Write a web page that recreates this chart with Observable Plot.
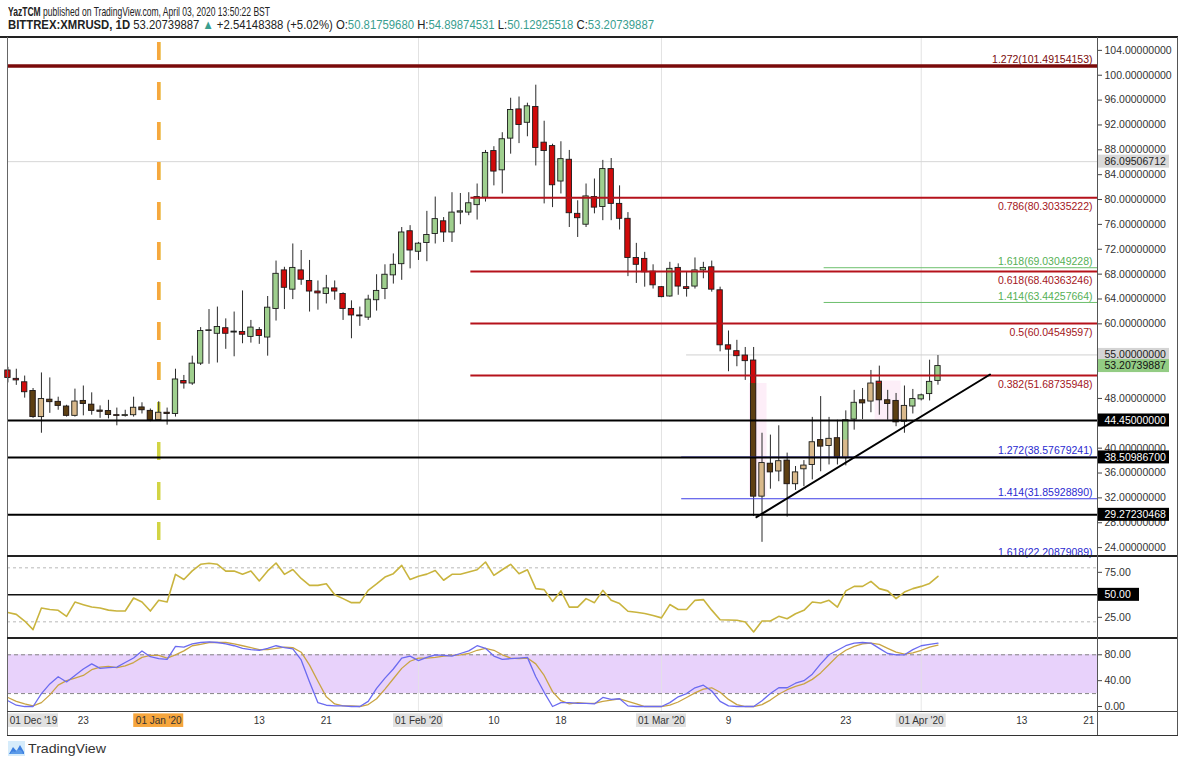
<!DOCTYPE html>
<html>
<head>
<meta charset="utf-8">
<script src="https://cdn.jsdelivr.net/npm/d3@7"></script>
<script src="https://cdn.jsdelivr.net/npm/@observablehq/plot@0.6"></script>
<style>
html,body{margin:0;padding:0;background:#fff;}
#root{position:relative;width:1180px;height:768px;overflow:hidden;background:#fff;font-family:"Liberation Sans",Arial,sans-serif;color:#333;}
.pane{position:absolute;left:7px;}
.ln{position:absolute;}
.hdr{position:absolute;left:8px;white-space:nowrap;transform-origin:0 50%;font-size:13px;line-height:14px;color:#222;}
.t{color:#3a9e8f}
#logo{position:absolute;left:8px;top:741px;display:flex;align-items:center;}
#logoText{font-size:13px;color:#333;margin-left:3px;transform-origin:0 50%;white-space:nowrap;}
</style>
</head>
<body>
<div id="root">
  <div class="hdr" id="h1" style="top:5px"></div>
  <div class="hdr" id="h2" style="top:18px"></div>
  <div class="pane" id="pMain" style="top:38px"></div>
  <div class="pane" id="pRsi" style="top:556px"></div>
  <div class="pane" id="pStoch" style="top:638px"></div>
  <div class="pane" id="pDate" style="top:712px"></div>
  <div id="logo">
    <svg width="17" height="15" viewBox="0 0 17 15"><rect x="0" y="0" width="17" height="15" fill="#d6ecfb"/><path d="M1 13 L5 6 L8.5 10 L12 4 L16 11 L16 13 Z" fill="#3d7fe0"/><path d="M2 13 Q4 9 7 11 Q10 7 14 10 L15 13 Z" fill="#5a9ae8"/></svg>
    <span id="logoText">TradingView</span>
  </div>
</div>
<script>
// ---------------- DATA ----------------
const publisher = "YazTCM";
const publishedAt = "April 03, 2020 13:50:22 BST";
const symbol = "BITTREX:XMRUSD, 1D";
const firstDay = "2019-12-14";

const open = [
52.5,51.15,50.6,49.2,45.0,47.8,47.45,46.7,45.2,47.6,47.0,46.05,45.97,45.3,45.2,45.3,46.55,46.0,
44.5,45.7,45.5,50.8,50.4,53.6,58.85,58.4,59.3,58.6,58.7,57.9,59.0,57.8,62.4,68.6,65.5,68.6,66.9,65.2,64.8,65.7,64.8,62.4,61.35,61.0,63.8,65.6,67.8,69.6,74.9,
71.6,73.0,74.45,76.5,74.7,77.9,77.9,79.1,80.3,87.8,84.7,89.8,94.5,92.35,94.9,89.15,88.6,82.9,86.4,77.7,75.95,80.4,78.8,84.9,79.3,76.9,70.6,70.45,68.4,
65.9,64.4,69.0,65.9,66.0,68.6,69.1,65.4,56.55,55.6,54.9,54.1,32.2,37.5,36.25,38.0,34.2,36.6,37.3,41.3,40.35,41.6,38.4,44.6,47.7,47.5,50.7,47.7,47.6,44.25,46.7,
47.85,48.7,50.81759680];
const high = [
53.0,52.7,51.6,49.6,52.1,51.3,48.2,46.9,49.5,50.0,48.9,46.8,47.7,46.45,46.1,48.2,47.3,46.3,
47.46,46.45,52.7,51.7,54.8,59.4,62.3,62.7,60.8,61.9,65.3,60.55,59.4,64.4,70.1,69.1,72.85,71.8,70.2,66.9,67.8,66.9,65.0,63.7,62.7,64.6,67.9,69.5,71.25,75.5,75.8,
73.1,78.1,80.4,77.1,81.1,80.97,81.1,82.5,87.9,88.5,90.75,96.3,96.5,95.5,98.4,92.6,88.9,89.3,87.9,79.8,82.5,83.3,86.3,86.6,82.2,77.9,72.95,71.5,69.5,
66.0,69.9,69.65,68.3,70.6,69.9,70.1,65.9,58.85,57.35,56.2,56.2,42.4,42.1,43.6,39.2,37.05,38.0,44.95,48.3,44.95,44.5,46.0,49.3,49.6,52.5,53.2,49.3,48.8,50.0,49.45,
48.7,54.15,54.89874531];
const low = [
50.5,50.1,48.05,44.8,42.4,45.6,46.1,45.0,45.0,45.2,45.3,44.8,44.7,43.6,45.0,45.0,45.5,44.25,
44.5,43.7,45.0,49.5,50.1,53.3,53.5,53.7,55.9,54.7,56.8,56.9,56.7,54.8,60.45,62.3,63.9,66.2,61.9,62.2,63.2,63.8,60.55,57.6,59.6,60.55,62.05,63.9,66.4,67.0,68.85,
70.2,70.0,72.85,73.1,73.1,75.95,77.4,76.7,79.6,82.2,80.9,87.3,89.0,90.1,85.4,79.3,78.7,80.9,75.5,73.9,75.5,77.7,76.6,76.6,75.1,67.6,66.5,65.9,65.6,
64.2,64.3,64.6,64.3,65.6,67.25,65.1,55.5,52.3,53.1,50.9,29.0,24.85,33.4,34.6,28.9,33.2,33.8,34.9,36.2,37.3,37.3,37.15,42.9,44.6,45.7,45.3,44.5,43.45,42.4,45.5,
47.6,47.6,50.12925518];
const close = [
51.3,50.9,49.0,45.0,47.9,47.4,46.8,45.2,47.5,47.1,46.0,45.85,45.33,45.2,45.3,46.5,46.1,44.5,
45.7,45.5,51.05,50.4,53.6,58.85,58.95,59.5,58.4,58.75,58.25,59.4,58.05,62.6,68.05,65.8,69.0,67.1,65.2,64.9,65.7,65.2,62.4,61.35,61.2,63.9,65.3,67.9,69.5,74.7,71.8,
72.9,74.3,76.85,74.7,77.9,78.1,79.4,80.4,87.5,84.5,89.7,94.4,92.0,95.0,88.3,87.8,82.3,86.5,77.8,77.0,80.5,78.7,84.9,79.3,76.9,70.6,69.5,68.3,66.2,
64.3,68.85,66.0,65.6,68.6,69.0,65.5,56.55,55.85,54.8,54.0,32.2,37.6,36.1,37.9,34.2,36.1,37.2,40.95,40.25,41.5,38.55,44.5,47.3,47.2,50.4,47.7,47.1,44.15,46.8,47.9,
48.5,50.66591499,53.20739887];

const rsi = [
30.3,28.3,20.9,11.4,35.3,33.7,32.8,26.1,42.0,39.1,36.4,35.3,33.0,32.0,32.0,46.5,42.0,32.0,
43.9,42.0,72.8,67.0,76.6,83.9,85.1,83.9,76.4,76.4,72.8,76.4,65.4,76.6,85.4,72.8,78.2,68.2,60.5,60.5,62.4,50.0,45.8,41.3,41.3,55.0,62.1,69.7,73.5,82.8,67.0,
70.6,73.0,77.1,66.2,72.8,72.8,75.4,77.9,86.5,71.7,77.9,83.9,73.5,77.9,56.9,55.8,42.7,54.4,36.4,36.4,45.8,41.3,55.0,43.9,40.3,31.8,30.6,29.3,27.0,
24.4,39.2,33.7,33.7,43.9,44.7,33.0,22.4,22.0,21.7,19.8,8.7,20.9,20.9,26.1,23.5,29.0,32.8,42.0,40.9,43.9,36.4,54.4,59.4,59.4,65.0,56.9,54.4,45.8,53.1,56.9,
59.4,62.7,70.6];
const stochK = [
9,2,0,0,20,35,46,38,48,58,66,59,60,61,68,75,86,77,
74,73,93,92,97,99,100,99,97,94,90,88,87,90,94,91,89,72,38,6,2,1,1,0,0,8,28,44,58,75,78,
71,76,80,79,78,82,86,94,90,78,73,74,75,76,46,22,0,6,6,5,5,4,14,11,12,1,0,0,0,
0,6,15,20,29,33,24,8,1,0,0,0,9,20,29,29,36,40,50,66,80,87,94,98,99,98,90,82,80,80,88,
94,96,98];
const stochD = [
14,8,4,1,6,18,33,40,44,48,57,61,62,60,63,68,76,79,
79,75,80,86,94,96,99,99,99,97,94,91,88,88,90,92,91,84,64,39,15,4,1,1,0,3,12,27,43,59,70,
75,75,76,78,79,80,82,87,90,87,80,75,74,75,66,48,23,9,4,6,5,5,8,10,12,8,4,0,0,
0,2,7,14,21,27,29,22,11,3,0,0,3,10,19,26,31,35,42,52,65,78,87,93,97,98,96,90,84,81,83,
87,92,95];

// drawn levels
const fibTopRatio = "1.272", fibTopLevel = 101.49154153;
const fibRedRatios = ["0.786","0.618","0.5","0.382"];
const fibRedLevels = [80.30335222, 68.40363246, 60.04549597, 51.68735948];
const fibRedFrom = "2020-02-07T06:00Z";
const fibGreenRatios = ["1.618","1.414"];
const fibGreenLevels = [69.03049228, 63.44257664];
const fibGreenFrom = "2020-03-20T10:00Z";
const fibBlueRatios = ["1.272","1.414","1.618"];
const fibBlueLevels = [38.57679241, 31.85928890, 22.20879089];
const fibBlueFrom = "2020-03-03T10:00Z";
const supportLevels = [44.45, 38.509867, 29.27230468];
const highMarkLevel = 86.09506712;
const roundLevel = 55, roundFrom = "2020-03-04";
const trendDates = ["2020-03-12T08:00Z", "2020-04-09T05:00Z"];
const trendPrices = [28.9, 51.85];
const markerDay = "2020-01-01";
const markerSplit = 49.7;
const monthStarts = ["2020-02-01","2020-03-01","2020-04-01"];
const tintZones = [
  {from:"2019-12-17", to:"2020-01-02", top:50.0},
  {from:"2020-03-12", to:"2020-03-22", top:50.4},
  {from:"2020-03-23", to:"2020-03-23", top:41.3},
  {from:"2020-03-25", to:"2020-03-30", top:50.4}];
const pinkBands = [
  {from:"2020-03-12", to:"2020-03-13", lo:32.2, hi:50.4},
  {from:"2020-03-27", to:"2020-03-29", lo:44.45, hi:50.8}];

const priceTicks = [24, 28, 32, 36, 40, 48, 60, 64, 68, 72, 76, 80, 84, 88, 92, 96, 100, 104];
const rsiTicks = [25, 50, 75], rsiBands = [80, 20], rsiMid = 50;
const stochTicks = [0, 40, 80], stochBands = [20, 80];
const dateTickDays = ["2019-12-23","2020-01-01","2020-01-13","2020-01-21","2020-02-01","2020-02-10","2020-02-18","2020-03-01","2020-03-09","2020-03-23","2020-04-01","2020-04-13","2020-04-21"];
const dateTickLabels = ["23","01 Jan '20","13","21","01 Feb '20","10","18","01 Mar '20","9","23","01 Apr '20","13","21"];
const firstDateLabel = "01 Dec '19";

// ---------------- BUILD ----------------
const DAY = 864e5;
const D = s => new Date(s.length === 10 ? s + "T00:00:00Z" : s);
const shift = (dt, days) => new Date(+dt + days * DAY);
const t0 = D(firstDay);
const candles = open.map((o, i) => ({date: shift(t0, i), o, h: high[i], l: low[i], c: close[i]}));
const n = candles.length;

const W = 1170, MR = 80, PW = W - MR;
const xDomain = [shift(t0, -0.05), shift(D("2020-04-22"), 0.04)];
const pxPerDay = PW / ((xDomain[1] - xDomain[0]) / DAY);
const xOpt = {type: "utc", domain: xDomain, axis: null};
const FONT = "'Liberation Sans', Arial, sans-serif";
const style = {overflow: "visible", background: "transparent", fontFamily: FONT, fontSize: "10.5px", color: "#333"};

// header
const last = candles[n - 1], prev = candles[n - 2];
const chg = last.c - prev.c, pct = chg / prev.c * 100;
document.getElementById("h1").innerHTML = `<b>${publisher}</b> published on TradingView.com, ${publishedAt}`;
document.getElementById("h2").innerHTML = `<b>${symbol}</b> ${last.c.toFixed(8)} <span class="t">&#9650;</span> +${chg.toFixed(8)} (+${pct.toFixed(2)}%) O:<span class="t">${last.o.toFixed(8)}</span> H:<span class="t">${last.h.toFixed(8)}</span> L:<span class="t">${last.l.toFixed(8)}</span> C:<span class="t">${last.c.toFixed(8)}</span>`;

// ---------- main pane ----------
const MH = 517;
const yMain = [22.73, 105.91];
const pricePerPx = (yMain[1] - yMain[0]) / MH;
const bw = 0.32;
const minBody = 0.7 * pricePerPx;
const bodyLo = d => Math.abs(d.c - d.o) < minBody ? (d.o + d.c) / 2 - minBody / 2 : Math.min(d.o, d.c);
const bodyHi = d => Math.abs(d.c - d.o) < minBody ? (d.o + d.c) / 2 + minBody / 2 : Math.max(d.o, d.c);
const upColor = "#9fcf8e", downColor = "#d10a0a", tanColor = "#d9b98b", brownColor = "#5d3f12";

const tinted = [];
for (const d of candles) {
  for (const z of tintZones) {
    if (d.date >= D(z.from) && d.date <= D(z.to)) {
      const lo = bodyLo(d), hi = Math.min(bodyHi(d), z.top);
      if (hi > lo) tinted.push({date: d.date, lo, hi, up: d.c >= d.o});
    }
  }
}

const axisBoxesMain = [
  {v: highMarkLevel, bg: "#d9d9d9", fg: "#222"},
  {v: roundLevel, bg: "#d4d4d4", fg: "#222"},
  {v: last.c, bg: "#93cc84", fg: "#111"},
  ...supportLevels.map(v => ({v, bg: "#000", fg: "#fff"}))];
const boxDays = 72 / pxPerDay;

const fibLabel = (ratios) => (d, i) => `${ratios[i]}(${d.toFixed(8)})`;
const right = () => xDomain[1];

const main = Plot.plot({
  width: W, height: MH, marginLeft: 0, marginRight: MR, marginTop: 0, marginBottom: 0,
  x: xOpt, y: {domain: yMain, axis: null}, color: {type: "identity"}, style,
  marks: [
    Plot.ruleX(monthStarts.map(D), {stroke: "#e2e2e2"}),
    Plot.ruleY([highMarkLevel], {stroke: "#d6d6d6"}),
    Plot.ruleY([roundLevel], {x1: () => D(roundFrom), x2: right, stroke: "#d0d0d0"}),
    Plot.rect(pinkBands, {x1: d => shift(D(d.from), -0.5), x2: d => shift(D(d.to), 0.6), y1: "lo", y2: "hi", fill: "#fdeef8"}),
    Plot.ruleX([D(markerDay)], {y1: () => yMain[1], y2: () => yMain[0], stroke: "#d2d444", strokeWidth: 3.5, strokeDasharray: "18,22", strokeDashoffset: 36}),
    Plot.ruleX([D(markerDay)], {y1: () => yMain[1], y2: () => markerSplit, stroke: "#f6a83e", strokeWidth: 3.5, strokeDasharray: "18,22", strokeDashoffset: 36}),
    // candles
    Plot.ruleX(candles, {x: "date", y1: "l", y2: "h", stroke: "#2a2a2a", strokeWidth: 1}),
    Plot.rect(candles, {x1: d => shift(d.date, -bw), x2: d => shift(d.date, bw), y1: bodyLo, y2: bodyHi, fill: d => d.c >= d.o ? upColor : downColor}),
    Plot.rect(tinted, {x1: d => shift(d.date, -bw), x2: d => shift(d.date, bw), y1: "lo", y2: "hi", fill: d => d.up ? tanColor : brownColor}),
    Plot.rect(candles, {x1: d => shift(d.date, -bw), x2: d => shift(d.date, bw), y1: bodyLo, y2: bodyHi, fill: "none", stroke: "#1b1b1b", strokeWidth: 0.9}),
    // drawings
    Plot.ruleY(fibBlueLevels.filter(v => v > yMain[0]), {x1: () => D(fibBlueFrom), x2: right, stroke: "#3c3ce6", strokeWidth: 1}),
    Plot.ruleY(fibGreenLevels, {x1: () => D(fibGreenFrom), x2: right, stroke: "#6cbf6c", strokeWidth: 1}),
    Plot.ruleY(fibRedLevels, {x1: () => D(fibRedFrom), x2: right, stroke: "#b5121b", strokeWidth: 2}),
    Plot.ruleY([fibTopLevel], {stroke: "#7a0a0a", strokeWidth: 3.5}),
    Plot.ruleY(supportLevels, {stroke: "#000", strokeWidth: 2}),
    Plot.line(trendDates.map((t, i) => ({date: D(t), price: trendPrices[i]})), {x: "date", y: "price", stroke: "#000", strokeWidth: 2}),
    // labels
    Plot.text([fibTopLevel], {x: right, y: d => d, text: fibLabel([fibTopRatio]), textAnchor: "end", dx: -5, dy: -6, fill: "#7a0a0a", fontSize: 10.5}),
    Plot.text(fibRedLevels, {x: right, y: d => d, text: fibLabel(fibRedRatios), textAnchor: "end", dx: -5, dy: 9, fill: "#a3151b", fontSize: 10.5}),
    Plot.text(fibGreenLevels, {x: right, y: d => d, text: fibLabel(fibGreenRatios), textAnchor: "end", dx: -5, dy: -6, fill: "#55b055", fontSize: 10.5}),
    Plot.text(fibBlueLevels, {x: right, y: d => d, text: fibLabel(fibBlueRatios), textAnchor: "end", dx: -5, dy: -6, fill: "#2a2ad0", fontSize: 10.5}),
    // price axis
    Plot.axisY(priceTicks, {anchor: "right", tickFormat: d3.format(".8f"), tickSize: 4, tickPadding: 3, fontSize: 10.5, label: null, stroke: "#444"}),
    Plot.rect(axisBoxesMain, {x1: () => shift(xDomain[1], 0.1), x2: () => shift(xDomain[1], boxDays), y1: d => d.v - 6.5 * pricePerPx, y2: d => d.v + 6.5 * pricePerPx, fill: d => d.bg}),
    Plot.text(axisBoxesMain, {x: right, y: "v", dx: 7, textAnchor: "start", text: d => d.v.toFixed(8), fill: d => d.fg, fontSize: 10.5})
  ]
});
document.getElementById("pMain").appendChild(main);

// ---------- RSI pane ----------
const RH = 81, yRsi = [2.6, 92.6];
const rsiPerPx = (yRsi[1] - yRsi[0]) / RH;
const rsiData = rsi.map((v, i) => ({date: candles[i].date, v}));
const rsiPlot = Plot.plot({
  width: W, height: RH, marginLeft: 0, marginRight: MR, marginTop: 0, marginBottom: 0,
  x: xOpt, y: {domain: yRsi, axis: null}, style,
  marks: [
    Plot.ruleX(monthStarts.map(D), {stroke: "#e2e2e2"}),
    Plot.ruleY(rsiBands, {stroke: "#b8b8b8", strokeDasharray: "3,3"}),
    Plot.ruleY([rsiMid], {stroke: "#111", strokeWidth: 1.5}),
    Plot.line(rsiData, {x: "date", y: "v", stroke: "#c9b43e", strokeWidth: 1.6}),
    Plot.axisY(rsiTicks, {anchor: "right", tickFormat: d3.format(".2f"), tickSize: 4, tickPadding: 3, fontSize: 10.5, label: null, stroke: "#444"}),
    Plot.rect([rsiMid], {x1: () => shift(xDomain[1], 0.1), x2: () => shift(xDomain[1], 42 / pxPerDay), y1: d => d - 6.5 * rsiPerPx, y2: d => d + 6.5 * rsiPerPx, fill: "#000"}),
    Plot.text([rsiMid], {x: right, y: d => d, dx: 7, textAnchor: "start", text: d => d.toFixed(2), fill: "#fff", fontSize: 10.5})
  ]
});
document.getElementById("pRsi").appendChild(rsiPlot);

// ---------- Stoch pane ----------
const SH = 73, ySt = [-7.7, 105.2];
const stData = candles.map((c, i) => ({date: c.date, k: stochK[i], d: stochD[i]}));
const stPlot = Plot.plot({
  width: W, height: SH, marginLeft: 0, marginRight: MR, marginTop: 0, marginBottom: 0,
  x: xOpt, y: {domain: ySt, axis: null}, style,
  marks: [
    Plot.rect([stochBands], {x1: () => xDomain[0], x2: right, y1: d => d[0], y2: d => d[1], fill: "#e8d2fb"}),
    Plot.ruleX(monthStarts.map(D), {stroke: "#e2e2e2", strokeOpacity: 0.8}),
    Plot.ruleY(stochBands, {stroke: "#858585", strokeDasharray: "4,3"}),
    Plot.line(stData, {x: "date", y: "d", stroke: "#c9a443", strokeWidth: 1.3}),
    Plot.line(stData, {x: "date", y: "k", stroke: "#6b6bf0", strokeWidth: 1.3}),
    Plot.axisY(stochTicks, {anchor: "right", tickFormat: d3.format(".2f"), tickSize: 4, tickPadding: 3, fontSize: 10.5, label: null, stroke: "#444"})
  ]
});
document.getElementById("pStoch").appendChild(stPlot);

// ---------- date strip ----------
const dateTicks = dateTickDays.map((s, i) => ({date: D(s), label: dateTickLabels[i], month: dateTickLabels[i].length > 3, jan: s === markerDay}));
const halfBox = 25 / pxPerDay;
const datePlot = Plot.plot({
  width: W, height: 23, marginLeft: 0, marginRight: MR, marginTop: 0, marginBottom: 0,
  x: xOpt, y: {domain: [0, 1], axis: null}, color: {type: "identity"}, style,
  marks: [
    Plot.rect(dateTicks.filter(d => d.month), {x1: d => shift(d.date, -halfBox), x2: d => shift(d.date, halfBox), y1: () => 0.35, y2: () => 0.94, fill: d => d.jan ? "#f6a53c" : "#e1e1e1"}),
    Plot.rect([firstDateLabel], {x1: () => shift(xDomain[0], 1 / pxPerDay), x2: () => shift(xDomain[0], 51 / pxPerDay), y1: () => 0.35, y2: () => 0.94, fill: "#e1e1e1"}),
    Plot.text(dateTicks, {x: "date", y: () => 0.65, text: "label", fill: "#333", fontSize: 10}),
    Plot.text([firstDateLabel], {x: () => shift(xDomain[0], 26 / pxPerDay), y: () => 0.65, text: d => d, fill: "#333", fontSize: 10})
  ]
});
document.getElementById("pDate").appendChild(datePlot);

// ---------- frame lines ----------
const root = document.getElementById("root");
const line = (l, t, w, h, c) => { const e = document.createElement("div"); e.className = "ln"; Object.assign(e.style, {left: l + "px", top: t + "px", width: w + "px", height: h + "px", background: c}); root.appendChild(e); };
line(0, 36, 1178, 1.5, "#222");
line(7, 37, 1, 698, "#666");
line(1177, 37, 1, 698, "#555");
line(7, 734.5, 1171, 1.5, "#333");
line(7, 555, 1170, 1.5, "#222");
line(7, 637, 1170, 1.5, "#222");
line(7, 711, 1170, 1, "#444");
line(1097, 37, 1, 698, "#555");

// fit header text widths
for (const [id, w] of [["h1", 262], ["h2", 646], ["logoText", 78]]) {
  const el = document.getElementById(id);
  const r = el.getBoundingClientRect().width;
  if (r > 0) el.style.transform = `scaleX(${w / r})`;
}
</script>
</body>
</html>
